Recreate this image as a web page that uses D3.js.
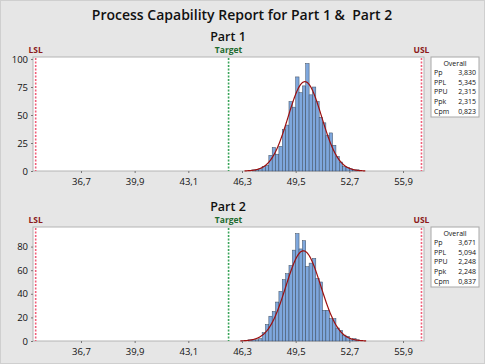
<!DOCTYPE html>
<html>
<head>
<meta charset="utf-8">
<script src="https://cdn.jsdelivr.net/npm/d3@7"></script>
<style>
  body { margin: 0; background: #e6e6e6; }
  svg { display: block; font-family: "Open Sans", "Noto Sans", sans-serif; }
</style>
</head>
<body>
<div id="chart"></div>
<script>
// spec limits
var LSL = 34, TARGET = 45.5, USL = 57;
var xTicks = [36.7, 39.9, 43.1, 46.3, 49.5, 52.7, 55.9];
var binWidth = 0.2;

// Part 1 histogram (bin centers, counts)
var part1Centers = [47.0, 47.2, 47.4, 47.6, 47.8, 48.0, 48.2, 48.4, 48.6, 48.8, 49.0, 49.2, 49.4, 49.6, 49.8, 50.0,
	50.2, 50.4, 50.6, 50.8, 51.0, 51.2, 51.4, 51.6, 51.8, 52.0, 52.2, 52.4, 52.6, 52.8, 53.0, 53.2];
var part1Counts = [1, 1, 2, 4, 5, 14, 21, 15, 22, 37, 41, 62, 57, 84, 70, 76,
	96, 68, 75, 62, 48, 43, 32, 34, 23, 13, 8, 4, 3, 2, 1, 1];
var part1Fit = { mean: 50.05, sd: 1.0, n: 1000 };
var part1Stats = [["Pp", "3,830"], ["PPL", "5,345"], ["PPU", "2,315"], ["Ppk", "2,315"], ["Cpm", "0,823"]];
var part1YTicks = [0, 25, 50, 75, 100];

// Part 2 histogram
var part2Centers = [46.8, 47.0, 47.2, 47.4, 47.6, 47.8, 48.0, 48.2, 48.4, 48.6, 48.8, 49.0, 49.2, 49.4, 49.6, 49.8, 50.0,
	50.2, 50.4, 50.6, 50.8, 51.0, 51.2, 51.4, 51.6, 51.8, 52.0, 52.2, 52.4, 52.6, 52.8, 53.0, 53.2];
var part2Counts = [1, 1, 1, 2, 7, 14, 21, 25, 33, 42, 52, 57, 64, 77, 91, 78, 85,
	63, 66, 70, 53, 50, 26, 26, 19, 19, 11, 9, 5, 4, 1, 2, 1];
var part2Fit = { mean: 49.96, sd: 1.044, n: 1000 };
var part2Stats = [["Pp", "3,671"], ["PPL", "5,094"], ["PPU", "2,248"], ["Ppk", "2,248"], ["Cpm", "0,837"]];
var part2YTicks = [0, 20, 40, 60, 80];

var W = 485, H = 364;
var svg = d3.select("#chart").append("svg").attr("width", W).attr("height", H);

svg.append("rect").attr("x", 0.5).attr("y", 0.5).attr("width", W - 1).attr("height", H - 1)
	.attr("fill", "#e6e6e6").attr("stroke", "#cfcfcf");

svg.append("text").attr("x", 242).attr("y", 20).attr("text-anchor", "middle")
	.style("white-space", "pre")
	.attr("font-size", "14px").attr("font-weight", "600").attr("fill", "#111")
	.text("Process Capability Report for Part 1 &  Part 2");

var x = d3.scaleLinear().domain([33.84, 57.15]).range([33, 424]);
var comma = function(v) { return d3.format(".1f")(v).replace(".", ","); };

function drawPanel(title, top, bottom, yMax, yTicks, centers, counts, fit, stats) {
	var y = d3.scaleLinear().domain([0, yMax]).range([bottom, top]);
	var g = svg.append("g");

	g.append("text").attr("x", 228).attr("y", top - 16).attr("text-anchor", "middle")
		.attr("font-size", "12.5px").attr("font-weight", "600").attr("fill", "#111").text(title);

	// plot area
	g.append("rect").attr("x", x.range()[0]).attr("y", top)
		.attr("width", x.range()[1] - x.range()[0]).attr("height", bottom - top)
		.attr("fill", "#fff").attr("stroke", "#b4b4b4");

	// bars
	g.selectAll("rect.bar").data(centers).enter().append("rect").attr("class", "bar")
		.attr("x", function(c) { return x(c - binWidth / 2); })
		.attr("width", function(c) { return x(c + binWidth / 2) - x(c - binWidth / 2); })
		.attr("y", function(c, i) { return y(counts[i]); })
		.attr("height", function(c, i) { return bottom - y(counts[i]); })
		.attr("fill", "#7ea7dd").attr("stroke", "#3c4a5c").attr("stroke-width", 0.5);

	// fitted normal curve
	var pts = d3.range(fit.mean - 3.6 * fit.sd, fit.mean + 3.6 * fit.sd, 0.02);
	var line = d3.line()
		.x(function(v) { return x(v); })
		.y(function(v) {
			var z = (v - fit.mean) / fit.sd;
			return y(fit.n * binWidth * Math.exp(-z * z / 2) / (fit.sd * Math.sqrt(2 * Math.PI)));
		});
	g.append("path").attr("d", line(pts)).attr("fill", "none")
		.attr("stroke", "#9c0f0f").attr("stroke-width", 1.2);

	// spec lines
	var specs = [[LSL, "LSL", "#f0607a", "#8b1a1a"], [TARGET, "Target", "#3aa55a", "#1f6b2e"], [USL, "USL", "#f0607a", "#8b1a1a"]];
	specs.forEach(function(s) {
		g.append("line").attr("x1", x(s[0])).attr("x2", x(s[0])).attr("y1", top + 1).attr("y2", bottom)
			.attr("stroke", s[2]).attr("stroke-width", 1.6).attr("stroke-dasharray", "2,1.5");
		g.append("text").attr("x", x(s[0])).attr("y", top - 4).attr("text-anchor", "middle")
			.attr("font-size", "8.5px").attr("font-weight", "700").attr("fill", s[3]).text(s[1]);
	});

	// axes
	var xAxis = g.append("g").attr("transform", "translate(0," + bottom + ")")
		.call(d3.axisBottom(x).tickValues(xTicks).tickSize(2).tickFormat(comma));
	xAxis.select(".domain").remove();
	xAxis.selectAll("text").attr("font-size", "9.5px").attr("fill", "#111").attr("dy", "0.9em")
		.attr("font-family", "\"Open Sans\", sans-serif");
	xAxis.selectAll("line").attr("stroke", "#777");

	var yAxis = g.append("g").attr("transform", "translate(" + x.range()[0] + ",0)")
		.call(d3.axisLeft(y).tickValues(yTicks).tickSize(2));
	yAxis.select(".domain").remove();
	yAxis.selectAll("text").attr("font-size", "9.5px").attr("fill", "#111")
		.attr("font-family", "\"Open Sans\", sans-serif");
	yAxis.selectAll("line").attr("stroke", "#777");

	// stats box
	var bx = 431, bw = 48, bh = 60;
	g.append("rect").attr("x", bx).attr("y", top).attr("width", bw).attr("height", bh)
		.attr("fill", "#fff").attr("stroke", "#a8a8a8");
	g.append("text").attr("x", bx + bw / 2).attr("y", top + 8.5).attr("text-anchor", "middle")
		.attr("font-size", "7px").attr("fill", "#111").text("Overall");
	stats.forEach(function(s, i) {
		var ty = top + 18.2 + i * 9.6;
		g.append("text").attr("x", bx + 3).attr("y", ty).attr("font-size", "7px")
			.attr("fill", "#111").text(s[0]);
		g.append("text").attr("x", bx + bw - 3).attr("y", ty).attr("text-anchor", "end")
			.attr("font-size", "7px").attr("fill", "#111").text(s[1]);
	});
}

drawPanel("Part 1", 57, 171, 101.8, part1YTicks, part1Centers, part1Counts, part1Fit, part1Stats);
drawPanel("Part 2", 227, 341, 96.6, part2YTicks, part2Centers, part2Counts, part2Fit, part2Stats);
</script>
</body>
</html>
